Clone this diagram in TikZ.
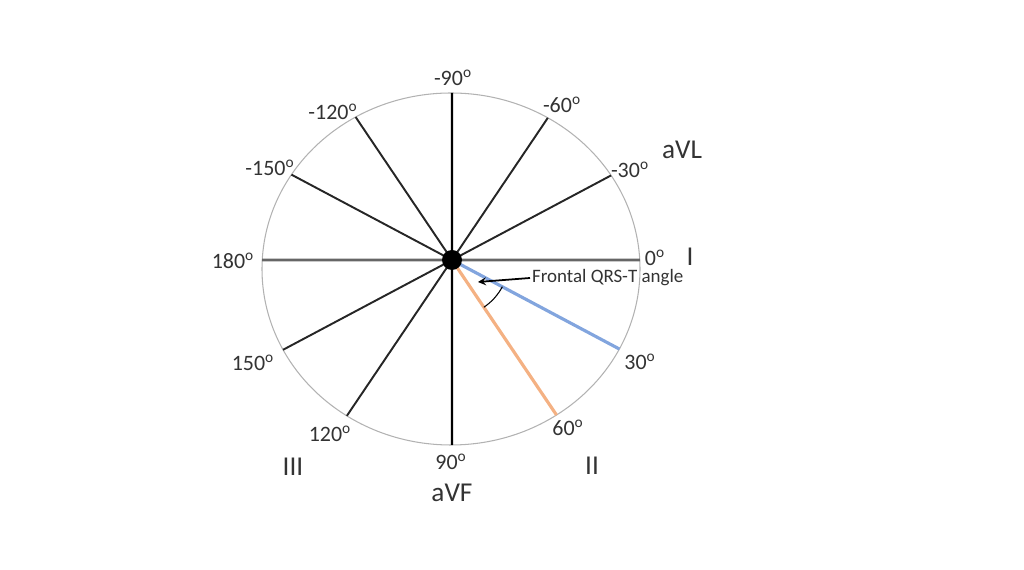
\documentclass[tikz,border=0pt]{standalone}
\usepackage{fontspec}
\setmainfont{Carlito}
\usepackage{tikz}
\usetikzlibrary{calc,intersections}
\definecolor{qrsblue}{RGB}{130,165,222}
\definecolor{torange}{RGB}{244,177,131}
\newcommand{\dego}{\textsuperscript{o}}

\begin{document}
\begin{tikzpicture}[spoke/.style={line width=1.1pt, black!85}, deg/.style={font=\fontsize{12.5}{13}\selectfont, text=black!80, inner sep=1pt}, lead/.style={font=\fontsize{15.5}{17}\selectfont, text=black!80, inner sep=1pt}] % 12本の軸
  \useasboundingbox (0,0) rectangle (20.48,11.4);
  \coordinate (O) at (9.04,6.2); % 中心
  \coordinate (C) at (9.02,6.02); % 円の中心
  \draw[gray!60, line width=0.6pt, name path=rim] (C) ellipse [x radius=3.78, y radius=3.52];

  % 軸、円との交点まで（縦に少しつぶれている）
  \foreach \a in {-152,-124,-56,-28,124,152}{
    \path[name path=ray] (O) -- ++(-\a:5);
    \draw[spoke, name intersections={of=rim and ray}] (O) -- (intersection-1);
  }
  \foreach \a in {-90,90}{
    \path[name path=ray] (O) -- ++(-\a:5);
    \draw[spoke, black, line width=1.3pt, name intersections={of=rim and ray}] (O) -- (intersection-1);
  }
  \foreach \a in {0,180}{
    \path[name path=ray] (O) -- ++(-\a:5);
    \draw[line width=1.7pt, black!60, name intersections={of=rim and ray}] (O) -- (intersection-1);
  }
  \path[name path=ray] (O) -- ++(-28:5);
  \draw[line width=1.8pt, qrsblue, name intersections={of=rim and ray}] (O) -- (intersection-1); % QRS軸
  \path[name path=ray] (O) -- ++(-56:5);
  \draw[line width=1.8pt, torange, name intersections={of=rim and ray}] (O) -- (intersection-1); % T軸
  \fill (O) circle (0.2);

  % 角度
  \draw[line width=0.6pt] (O) ++(-28:1.14) arc[start angle=-28, end angle=-56, radius=1.14];
  \coordinate (tip) at (9.56,5.76);
  \node[anchor=west, font=\fontsize{10.8}{12}\selectfont, text=black!80, inner sep=1pt] (qrst) at (10.6,5.84) {Frontal QRS-T angle};
  \draw[line width=1pt, -stealth] (qrst.west) -- (tip);

  % 目盛り
  \node[deg] (m90) at (9.06,9.84) {-90\dego};
  \node[deg] (m120) at (6.66,9.16) {-120\dego};
  \node[deg] (m60) at (11.24,9.30) {-60\dego};
  \node[deg] (m150) at (5.40,8.04) {-150\dego};
  \node[deg] (m30) at (12.60,8.00) {-30\dego};
  \node[deg] (p180) at (4.66,6.18) {180\dego};
  \node[deg] (p0) at (13.10,6.24) {0\dego};
  \node[deg] (p30) at (12.80,4.16) {30\dego};
  \node[deg] (p150) at (5.06,4.14) {150\dego};
  \node[deg] (p120) at (6.60,2.72) {120\dego};
  \node[deg] (p60) at (11.36,2.84) {60\dego};
  \node[deg] (p90) at (9.02,2.16) {90\dego};

  % 誘導
  \node[lead] (aVL) at (13.64,8.40) {aVL};
  \node[lead] (I) at (13.80,6.26) {I};
  \node[lead] (III) at (5.86,2.06) {III};
  \node[lead] (II) at (11.84,2.08) {II};
  \node[lead] (aVF) at (9.04,1.54) {aVF};
\end{tikzpicture}
\end{document}
